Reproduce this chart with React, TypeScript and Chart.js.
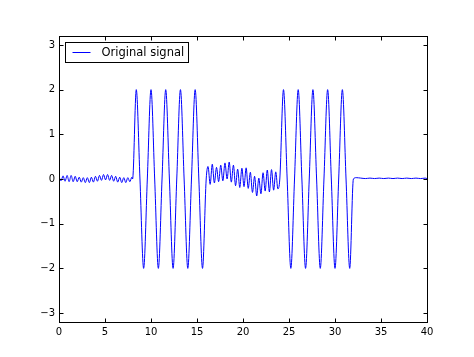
import React, { useEffect, useRef } from "react";
import { Chart, registerables } from "chart.js";

Chart.register(...registerables);

const seriesLabel = "Original signal";
const xTicks = [0, 5, 10, 15, 20, 25, 30, 35, 40];
const yTicks = [-3, -2, -1, 0, 1, 2, 3];

// 0–8 s: low-level ripple (extrema)
const rippleTimes = [
  0, 0.22, 0.44, 0.66, 0.88, 1.1, 1.32, 1.54, 1.76, 1.98, 2.2, 2.42, 2.64, 2.86, 3.08, 3.3, 3.52, 3.74,
  3.96, 4.18, 4.4, 4.62, 4.84, 5.06, 5.28, 5.5, 5.72, 5.94, 6.16, 6.38, 6.6, 6.82, 7.04, 7.26, 7.48, 7.7, 7.92,
];
const rippleValues = [
  0.05, -0.04, 0.07, -0.05, 0.08, -0.06, 0.08, -0.06, 0.06, -0.06, 0.04, -0.07, 0.03, -0.08, 0.03, -0.08, 0.04, -0.07,
  0.06, -0.05, 0.08, -0.03, 0.1, -0.02, 0.1, -0.03, 0.08, -0.05, 0.06, -0.07, 0.04, -0.08, 0.03, -0.08, 0.03, -0.06, 0.04,
];

// 8–16 s: first strong burst (zeros and extrema)
const burst1Times = [
  8, 8.4, 8.8, 9.2, 9.6, 10, 10.4, 10.8, 11.2, 11.6, 12, 12.4, 12.8, 13.2, 13.6, 14, 14.4, 14.8, 15.2, 15.6, 16,
];
const burst1Values = [0, 2, 0, -2, 0, 2, 0, -2, 0, 2, 0, -2, 0, 2, 0, -2, 0, 2, 0, -2, 0];

// 16–24 s: moderate chatter (extrema)
const chatterTimes = [
  16.2, 16.43, 16.66, 16.89, 17.12, 17.35, 17.58, 17.81, 18.04, 18.27, 18.5, 18.73, 18.96, 19.19, 19.42, 19.65, 19.88,
  20.11, 20.34, 20.57, 20.8, 21.03, 21.26, 21.49, 21.72, 21.95, 22.18, 22.41, 22.64, 22.87, 23.1, 23.33, 23.56, 23.79,
];
const chatterValues = [
  0.28, -0.12, 0.33, -0.09, 0.26, -0.06, 0.31, -0.04, 0.36, 0.0, 0.38, -0.07, 0.31, -0.15, 0.22, -0.19, 0.24,
  -0.17, 0.25, -0.21, 0.15, -0.3, 0.06, -0.38, 0.02, -0.33, 0.14, -0.27, 0.2, -0.29, 0.21, -0.25, 0.16, -0.22,
];

// 24–32 s: second strong burst
const burst2Times = [
  24, 24.4, 24.8, 25.2, 25.6, 26, 26.4, 26.8, 27.2, 27.6, 28, 28.4, 28.8, 29.2, 29.6, 30, 30.4, 30.8, 31.2, 31.6, 32,
];
const burst2Values = [0, 2, 0, -2, 0, 2, 0, -2, 0, 2, 0, -2, 0, 2, 0, -2, 0, 2, 0, -2, 0];

// 32–40 s: near-flat tail
const tailTimes = [32.3, 32.8, 33.3, 33.8, 34.3, 34.8, 35.3, 35.8, 36.3, 36.8, 37.3, 37.8, 38.3, 38.8, 39.3, 39.8, 40];
const tailValues = [0.03, 0.02, 0.01, 0.02, 0.01, 0.02, 0.01, 0.02, 0.01, 0.02, 0.01, 0.02, 0.01, 0.02, 0.01, 0.02, 0.01];

const FONT = "'DejaVu Sans', sans-serif";
const fmt = (v: number) => (v < 0 ? "\u2212" + Math.abs(v) : String(v));

const framePlugin = {
  id: "mplFrame",
  afterDraw(chart: any) {
    const { ctx, chartArea } = chart;
    const l = Math.round(chartArea.left) + 0.5;
    const r = Math.round(chartArea.right) + 0.5;
    const t = Math.round(chartArea.top) + 0.5;
    const b = Math.round(chartArea.bottom) + 0.5;
    const xs = chart.scales.x;
    const ys = chart.scales.y;
    ctx.save();
    ctx.strokeStyle = "#000";
    ctx.lineWidth = 1;
    ctx.strokeRect(l, t, r - l, b - t);
    const tl = 4;
    ctx.beginPath();
    for (const v of xTicks) {
      const px = Math.round(xs.getPixelForValue(v)) + 0.5;
      ctx.moveTo(px, b);
      ctx.lineTo(px, b - tl);
      ctx.moveTo(px, t);
      ctx.lineTo(px, t + tl);
    }
    for (const v of yTicks) {
      const py = Math.round(ys.getPixelForValue(v)) + 0.5;
      ctx.moveTo(l, py);
      ctx.lineTo(l + tl, py);
      ctx.moveTo(r, py);
      ctx.lineTo(r - tl, py);
    }
    ctx.stroke();

    // legend
    const bx = l + 6;
    const by = t + 6;
    const bw = 123;
    const bh = 20;
    ctx.fillStyle = "#fff";
    ctx.fillRect(bx, by, bw, bh);
    ctx.strokeStyle = "#000";
    ctx.strokeRect(bx, by, bw, bh);
    const my = Math.round(by + bh / 2) + 0.5;
    ctx.strokeStyle = "#0000ff";
    ctx.beginPath();
    ctx.moveTo(bx + 7, my - 1);
    ctx.lineTo(bx + 25, my - 1);
    ctx.stroke();
    ctx.fillStyle = "#000";
    ctx.font = `11.5px ${FONT}`;
    ctx.textBaseline = "middle";
    ctx.textAlign = "left";
    ctx.fillText(seriesLabel, bx + 36, my);
    ctx.restore();
  },
};

export default function App() {
  const ref = useRef<HTMLCanvasElement | null>(null);
  useEffect(() => {
    if (!ref.current) return;
    const times = [...rippleTimes, ...burst1Times, ...chatterTimes, ...burst2Times, ...tailTimes];
    const values = [...rippleValues, ...burst1Values, ...chatterValues, ...burst2Values, ...tailValues];
    const points = times.map((t, i) => ({ x: t, y: values[i] }));
    const chart = new Chart(ref.current, {
      type: "line",
      data: {
        datasets: [
          {
            label: seriesLabel,
            data: points,
            borderColor: "#0000ff",
            borderWidth: 1,
            pointRadius: 0,
            fill: false,
            cubicInterpolationMode: "monotone",
          },
        ],
      },
      options: {
        responsive: false,
        animation: false,
        events: [],
        layout: { padding: { left: 0, top: 36, right: 47, bottom: 0 } },
        plugins: { legend: { display: false }, tooltip: { enabled: false } },
        scales: {
          x: {
            type: "linear",
            min: 0,
            max: 40,
            afterBuildTicks: (ax: any) => {
              ax.ticks = xTicks.map((v) => ({ value: v }));
            },
            afterFit: (ax: any) => {
              ax.height = 35;
            },
            grid: { display: false, drawTicks: false },
            border: { display: false },
            ticks: {
              color: "#000",
              font: { family: FONT, size: 10 },
              padding: 4,
              maxRotation: 0,
              autoSkip: false,
              callback: (v: any) => fmt(Number(v)),
            },
          },
          y: {
            type: "linear",
            min: -3.2,
            max: 3.2,
            afterBuildTicks: (ax: any) => {
              ax.ticks = yTicks.map((v) => ({ value: v }));
            },
            afterFit: (ax: any) => {
              ax.width = 59;
            },
            grid: { display: false, drawTicks: false },
            border: { display: false },
            ticks: {
              color: "#000",
              font: { family: FONT, size: 10 },
              padding: 4,
              autoSkip: false,
              callback: (v: any) => fmt(Number(v)),
            },
          },
        },
      },
      plugins: [framePlugin],
    });
    return () => chart.destroy();
  }, []);
  return (
    <div style={{ position: "absolute", left: 0, top: 0, width: 474, height: 357, background: "#fff" }}>
      <canvas ref={ref} width={474} height={357} style={{ display: "block" }} />
    </div>
  );
}
